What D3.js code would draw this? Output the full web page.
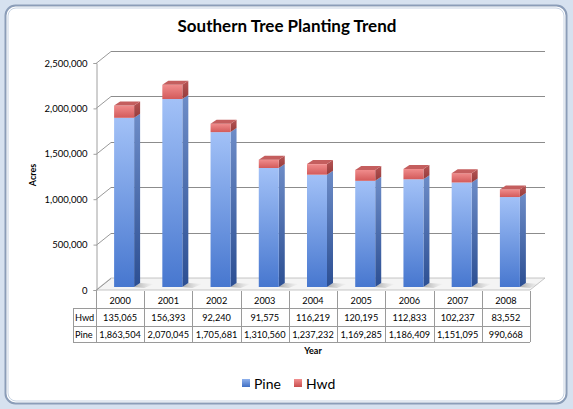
<!DOCTYPE html>
<html>
<head>
<meta charset="utf-8">
<script src="https://cdn.jsdelivr.net/npm/d3@7"></script>
<style>
  body { margin: 0; background: #d6e1ef; }
  svg { display: block; }
  text { font-family: Lato, "Open Sans", sans-serif; fill: #000; }
</style>
</head>
<body>
<div id="chart"></div>
<script>
// data
var years = ["2000", "2001", "2002", "2003", "2004", "2005", "2006", "2007", "2008"];
var pine = [1863504, 2070045, 1705681, 1310560, 1237232, 1169285, 1186409, 1151095, 990668];
var hwd = [135065, 156393, 92240, 91575, 116219, 120195, 112833, 102237, 83552];
var yTicks = [0, 500000, 1000000, 1500000, 2000000, 2500000];
var seriesNames = ["Pine", "Hwd"];

var W = 573, H = 409;
var plotL = 96, plotR = 530, plotB = 290, plotT = 63;
var depthX = 15, depthY = -12;   // back wall offset
var barDX = 4, barDY = -3;       // where the bar front sits inside the depth
var sideW = 6, topH = 4;         // bar thickness

var svg = d3.select("#chart").append("svg")
  .attr("width", W)
  .attr("height", H);

var defs = svg.append("defs");
function grad(id, c1, c2) {
  var g = defs.append("linearGradient").attr("id", id)
    .attr("x1", 0).attr("y1", 0).attr("x2", 0).attr("y2", 1);
  g.append("stop").attr("offset", "0%").attr("stop-color", c1);
  g.append("stop").attr("offset", "100%").attr("stop-color", c2);
}
grad("pineFront", "#a2c1f7", "#4777cf");
grad("pineSide", "#6d8cc7", "#2c4f93");
grad("hwdFront", "#f08c8c", "#d35a5a");
grad("hwdSide", "#b65454", "#953b3b");
grad("legPine", "#8fb1ec", "#3f6fc4");
grad("legHwd", "#f29090", "#c84c4c");
var sh = defs.append("linearGradient").attr("id", "shadow")
  .attr("x1", 0).attr("y1", 0).attr("x2", 1).attr("y2", 0);
sh.append("stop").attr("offset", "0%").attr("stop-color", "#8a8a8a").attr("stop-opacity", 0.7);
sh.append("stop").attr("offset", "100%").attr("stop-color", "#bbbbbb").attr("stop-opacity", 0);

// window frame
svg.append("rect").attr("x", 0).attr("y", 0).attr("width", W).attr("height", H).attr("fill", "#d6e1ef");
svg.append("rect").attr("x", 5.5).attr("y", 5.5).attr("width", 561).attr("height", 398)
  .attr("rx", 10).attr("fill", "#fff").attr("stroke", "#8b9db8").attr("stroke-width", 2);
svg.append("rect").attr("x", 8).attr("y", 8).attr("width", 556).attr("height", 393)
  .attr("rx", 8).attr("fill", "none").attr("stroke", "#c7d3e3").attr("stroke-width", 1);

var x = d3.scaleBand().domain(years).range([plotL, plotR]).padding(0);
var y = d3.scaleLinear().domain([0, 2500000]).range([plotB, plotT]);
var fmt = d3.format(",");

// floor
svg.append("path")
  .attr("d", "M" + plotL + "," + plotB + "L" + plotR + "," + plotB +
    "L" + (plotR + depthX) + "," + (plotB + depthY) + "L" + (plotL + depthX) + "," + (plotB + depthY) + "Z")
  .attr("fill", "#f4f4f4").attr("stroke", "#b8b8b8").attr("stroke-width", 0.8);

// gridlines on back wall, diagonals on side
var grid = svg.append("g");
yTicks.forEach(function(t) {
  var yy = Math.round(y(t)) + 0.5;
  if (t > 0) {
    grid.append("line")
      .attr("x1", plotL + depthX).attr("x2", plotR + depthX)
      .attr("y1", yy + depthY).attr("y2", yy + depthY)
      .attr("stroke", "#8c8c8c").attr("stroke-width", 1);
  }
  grid.append("line")
    .attr("x1", plotL).attr("y1", yy)
    .attr("x2", plotL + depthX).attr("y2", yy + depthY)
    .attr("stroke", "#9a9a9a").attr("stroke-width", 1);
});

// y axis
var yAxis = d3.axisLeft(y).tickValues(yTicks).tickFormat(fmt).tickSize(3).tickPadding(6);
var ga = svg.append("g").attr("transform", "translate(" + (plotL + 0.5) + ",0)").call(yAxis);
ga.select(".domain").attr("stroke", "#a0a0a0");
ga.selectAll(".tick line").attr("stroke", "#a0a0a0");
ga.selectAll(".tick text").style("font-size", "9.5px").attr("fill", "#000");

// bars
var stack = years.map(function(yr, i) {
  return { year: yr, parts: [
    { key: "Pine", y0: 0, y1: pine[i] },
    { key: "Hwd", y0: pine[i], y1: pine[i] + hwd[i] }
  ] };
});

var bw = 20;
var bars = svg.append("g");
stack.forEach(function(d) {
  var bx = x(d.year) + x.bandwidth() / 2 - bw / 2 + barDX;
  var base = y(0) + barDY;
  // floor shadow
  bars.append("path")
    .attr("d", "M" + (bx + bw) + "," + base + "L" + (bx + bw + sideW) + "," + (base - topH) +
      "L" + (bx + bw + sideW + 14) + "," + (base - topH + 1) + "L" + (bx + bw + 10) + "," + (base + 1) + "Z")
    .attr("fill", "url(#shadow)");
  d.parts.forEach(function(p) {
    var yt = y(p.y1) + barDY, yb = y(p.y0) + barDY;
    var front = p.key === "Pine" ? "url(#pineFront)" : "url(#hwdFront)";
    var side = p.key === "Pine" ? "url(#pineSide)" : "url(#hwdSide)";
    bars.append("path")
      .attr("d", "M" + (bx + bw) + "," + yb + "L" + (bx + bw + sideW) + "," + (yb - topH) +
        "L" + (bx + bw + sideW) + "," + (yt - topH) + "L" + (bx + bw) + "," + yt + "Z")
      .attr("fill", side);
    bars.append("rect")
      .attr("x", bx).attr("y", yt).attr("width", bw).attr("height", yb - yt)
      .attr("fill", front);
  });
  var last = d.parts[1];
  var yt = y(last.y1) + barDY;
  bars.append("path")
    .attr("d", "M" + bx + "," + yt + "L" + (bx + sideW) + "," + (yt - topH) +
      "L" + (bx + bw + sideW) + "," + (yt - topH) + "L" + (bx + bw) + "," + yt + "Z")
    .attr("fill", "#c45e5e");
});

// data table
var tbl = svg.append("g");
var rowY = [291, 308, 326, 342];
var tx0 = 73;
var lineCol = "#9a9a9a";
[1, 2, 3].forEach(function(r) {
  tbl.append("line").attr("x1", tx0).attr("x2", plotR).attr("y1", rowY[r] + 0.5).attr("y2", rowY[r] + 0.5).attr("stroke", lineCol);
});
tbl.append("line").attr("x1", tx0 + 0.5).attr("x2", tx0 + 0.5).attr("y1", rowY[1]).attr("y2", rowY[3]).attr("stroke", lineCol);
years.forEach(function(yr) {
  tbl.append("line").attr("x1", Math.round(x(yr)) + 0.5).attr("x2", Math.round(x(yr)) + 0.5)
    .attr("y1", rowY[0]).attr("y2", rowY[3]).attr("stroke", lineCol);
});
tbl.append("line").attr("x1", plotR + 0.5).attr("x2", plotR + 0.5)
  .attr("y1", rowY[0]).attr("y2", rowY[3]).attr("stroke", lineCol);

var fs = "9.2px";
tbl.selectAll(".yr").data(years).enter().append("text")
  .attr("x", function(d) { return x(d) + x.bandwidth() / 2; })
  .attr("y", 303.5).attr("text-anchor", "middle").style("font-size", fs)
  .text(function(d) { return d; });
tbl.selectAll(".hw").data(hwd).enter().append("text")
  .attr("x", function(d, i) { return x(years[i]) + x.bandwidth() / 2; })
  .attr("y", 321).attr("text-anchor", "middle").style("font-size", fs)
  .text(function(d) { return fmt(d); });
tbl.selectAll(".pn").data(pine).enter().append("text")
  .attr("x", function(d, i) { return x(years[i]) + x.bandwidth() / 2; })
  .attr("y", 338).attr("text-anchor", "middle").style("font-size", fs)
  .text(function(d) { return fmt(d); });
tbl.append("text").attr("x", 75).attr("y", 321).style("font-size", fs).text("Hwd");
tbl.append("text").attr("x", 75).attr("y", 338).style("font-size", fs).text("Pine");

// titles
svg.append("text").attr("x", 287).attr("y", 32).attr("text-anchor", "middle")
  .style("font-size", "17px").style("font-weight", "bold").text("Southern Tree Planting Trend");
svg.append("text").attr("transform", "translate(36,175) rotate(-90)").attr("text-anchor", "middle")
  .style("font-size", "9px").style("font-weight", "bold").text("Acres");
svg.append("text").attr("x", 313).attr("y", 354).attr("text-anchor", "middle")
  .style("font-size", "9px").style("font-weight", "bold").text("Year");

// legend
var leg = svg.append("g");
var legX = [242, 294];
seriesNames.forEach(function(n, i) {
  leg.append("rect").attr("x", legX[i]).attr("y", 379).attr("width", 8).attr("height", 8)
    .attr("fill", i === 0 ? "url(#legPine)" : "url(#legHwd)");
  leg.append("text").attr("x", legX[i] + 12).attr("y", 389).style("font-size", "14px").text(n);
});
</script>
</body>
</html>
